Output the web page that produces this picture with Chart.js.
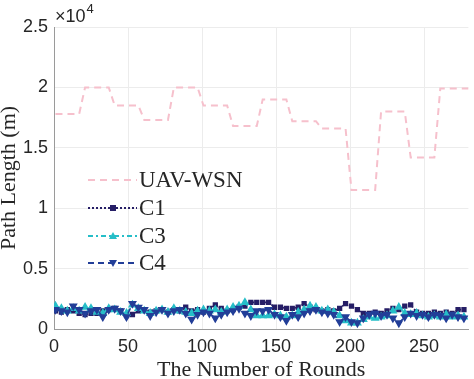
<!DOCTYPE html>
<html>
<head>
<meta charset="utf-8">
<script src="https://cdn.jsdelivr.net/npm/chart.js@4/dist/chart.umd.min.js"></script>
<style>
  html, body { margin: 0; padding: 0; background: #ffffff; }
  #wrap { width: 474px; height: 379px; }
</style>
</head>
<body>
<div id="wrap"><canvas id="c" width="474" height="379"></canvas></div>
<script>
// ---- data ----
const rounds = [1,5,9,13,17,21,25,29,33,37,41,45,49,53,57,61,65,69,73,77,81,85,89,93,97,
  101,105,109,113,117,121,125,129,133,137,141,145,149,153,157,161,165,169,173,177,181,185,189,193,197,
  201,205,209,213,217,221,225,229,233,237,241,245,249,253,257,261,265,269,273,277,281];

const uavWsn = [17800,17800,17800,17800,17800, 20000,20000,20000,20000,20000,
  18500,18500,18500,18500,18500, 17300,17300,17300,17300,17300,
  20000,20000,20000,20000,20000, 18500,18500,18500,18500,18500,
  16800,16800,16800,16800,16800, 19000,19000,19000,19000,19000,
  17200,17200,17200,17200,17200, 16600,16600,16600,16600,16600,
  11500,11500,11500,11500,11500, 18000,18000,18000,18000,18000,
  14200,14200,14200,14200,14200, 19900,19900,19900,19900,19900,19900];

const c1 = [1500,1400,1600,1500,1300,1200,1300,1300,1500,1600,1700,1500,1100,1200,1500,1600,1400,1500,1600,1400,
  1600,1500,1800,1500,1600,1400,1700,2000,1700,1500,1600,1800,1900,2200,2200,2200,2200,1800,1800,1700,
  1700,1800,2100,1800,1600,1500,1600,1500,1700,2100,1900,1600,1300,1300,1400,1300,1500,1700,1600,1900,
  2000,1400,1300,1300,1400,1300,1400,1300,1600,1600];

const c3 = [1900,1700,1500,1700,1500,1800,1700,1400,1300,1700,1600,1400,1300,2000,1700,1500,1300,1500,1600,1400,
  1700,1500,1400,1300,1500,1600,1500,1600,1400,1600,1800,1900,2200,1600,1100,1100,1100,1200,1100,1000,
  1100,1400,1600,1900,1800,1500,1600,1400,1100,700,500,500,800,1000,900,1000,1100,1500,1800,1300,
  1200,1300,1100,1000,1100,1000,1200,1000,1100,1000];

const c4 = [1600,1500,1400,1900,1600,1300,1500,1600,1000,1600,1700,1500,1000,2100,1800,1600,1100,1400,1600,1300,
  1500,1600,1300,800,1200,1400,1300,900,1200,1400,1500,1700,1300,1100,1500,1500,1600,1200,1000,700,
  1200,1000,1300,1500,1600,1400,1300,1200,600,1000,600,500,900,1200,1300,1100,1200,900,500,1000,
  1300,1100,1200,1000,1200,1100,900,1200,1000,900];

const xTicks = [0,50,100,150,200,250];
const yTickLabels = ['0','0.5','1','1.5','2','2.5'];

// ---- styles ----
const COL_UAV = 'rgb(246,192,204)';
const COL_C1 = 'rgb(38,30,102)';
const COL_C3 = 'rgb(38,190,200)';
const COL_C4 = 'rgb(34,62,152)';
const TXT = '#262626';

function pts(vals) { return vals.map((v, i) => ({ x: rounds[i], y: v })); }

const legendItems = [
  { label: 'UAV-WSN', color: COL_UAV, dash: [7,5], marker: null },
  { label: 'C1', color: COL_C1, dash: [2,2], marker: 'rect' },
  { label: 'C3', color: COL_C3, dash: [5,3,2,3], marker: 'tri' },
  { label: 'C4', color: COL_C4, dash: [6,4], marker: 'tridown' }
];

const overlay = {
  id: 'overlay',
  afterDraw(chart) {
    const ctx = chart.ctx;
    ctx.save();
    // x10^4 multiplier
    ctx.fillStyle = TXT;
    ctx.textBaseline = 'alphabetic';
    ctx.textAlign = 'left';
    ctx.font = '18px "Liberation Sans", Arial, sans-serif';
    ctx.fillText('\u00d710', 55, 22);
    const w = ctx.measureText('\u00d710').width;
    ctx.font = '13px "Liberation Sans", Arial, sans-serif';
    ctx.fillText('4', 55 + w + 1, 13);

    // legend
    const rowsY = [180, 208, 236, 263];
    const x0 = 88, x1 = 137, xm = 113;
    legendItems.forEach((it, i) => {
      const y = rowsY[i];
      ctx.strokeStyle = it.color;
      ctx.lineWidth = 2;
      ctx.setLineDash(it.dash);
      ctx.beginPath();
      ctx.moveTo(x0, y); ctx.lineTo(x1, y);
      ctx.stroke();
      ctx.setLineDash([]);
      ctx.fillStyle = it.color;
      if (it.marker === 'rect') {
        ctx.fillRect(xm - 3, y - 3, 6, 6);
      } else if (it.marker === 'tri') {
        ctx.beginPath(); ctx.moveTo(xm, y - 4); ctx.lineTo(xm + 4, y + 3); ctx.lineTo(xm - 4, y + 3); ctx.closePath(); ctx.fill();
      } else if (it.marker === 'tridown') {
        ctx.beginPath(); ctx.moveTo(xm, y + 4); ctx.lineTo(xm + 4, y - 3); ctx.lineTo(xm - 4, y - 3); ctx.closePath(); ctx.fill();
      }
      ctx.fillStyle = TXT;
      ctx.font = '23px "Liberation Serif", "Times New Roman", serif';
      ctx.textBaseline = 'middle';
      ctx.fillText(it.label, 139, y + 1);
    });
    ctx.restore();
  }
};

new Chart(document.getElementById('c'), {
  type: 'line',
  data: {
    datasets: [
      { label: 'UAV-WSN', data: pts(uavWsn), borderColor: COL_UAV, backgroundColor: COL_UAV, order: 3,
        borderWidth: 2, borderDash: [7,5], pointRadius: 0, tension: 0 },
      { label: 'C1', data: pts(c1), borderColor: COL_C1, backgroundColor: COL_C1, order: 2,
        borderWidth: 1.6, borderDash: [2,2], pointStyle: 'rect', pointRadius: 2.6, tension: 0 },
      { label: 'C3', data: pts(c3), borderColor: COL_C3, backgroundColor: COL_C3, order: 1,
        borderWidth: 1.6, borderDash: [5,3,2,3], pointStyle: 'triangle', pointRadius: 3.6, tension: 0 },
      { label: 'C4', data: pts(c4), borderColor: COL_C4, backgroundColor: COL_C4, order: 0,
        borderWidth: 1.6, borderDash: [6,4], pointStyle: 'triangle', rotation: 180, pointRadius: 3.6, tension: 0 }
    ]
  },
  options: {
    responsive: false,
    animation: false,
    devicePixelRatio: 1,
    layout: { padding: { top: 27, right: 2, left: 0, bottom: 0 } },
    plugins: { legend: { display: false }, tooltip: { enabled: false } },
    scales: {
      x: {
        type: 'linear', min: 0, max: 280,
        afterBuildTicks: s => { s.ticks = xTicks.map(v => ({ value: v })); },
        afterFit: s => { s.height = 50; },
        ticks: { color: TXT, padding: 7, maxRotation: 0,
          font: { family: '"Liberation Sans", Arial, sans-serif', size: 18 } },
        grid: { color: 'rgb(236,236,236)', drawTicks: false },
        border: { display: true, color: '#9a9a9a', width: 1 },
        title: { display: true, text: 'The Number of Rounds', color: TXT,
          padding: { top: 0, bottom: 0 },
          font: { family: '"Liberation Serif", "Times New Roman", serif', size: 22, lineHeight: 0.77 } }
      },
      y: {
        min: 0, max: 25000,
        afterBuildTicks: s => { s.ticks = yTickLabels.map((t, i) => ({ value: i * 5000 })); },
        afterFit: s => { s.width = 54; },
        ticks: { color: TXT, padding: 6,
          callback: (v, i) => yTickLabels[i],
          font: { family: '"Liberation Sans", Arial, sans-serif', size: 18 } },
        grid: { color: 'rgb(236,236,236)', drawTicks: false },
        border: { display: true, color: '#9a9a9a', width: 1 },
        title: { display: true, text: 'Path Length (m)', color: TXT,
          padding: { top: 1, bottom: 0 },
          font: { family: '"Liberation Serif", "Times New Roman", serif', size: 22, lineHeight: 0.77 } }
      }
    }
  },
  plugins: [overlay]
});
</script>
</body>
</html>
